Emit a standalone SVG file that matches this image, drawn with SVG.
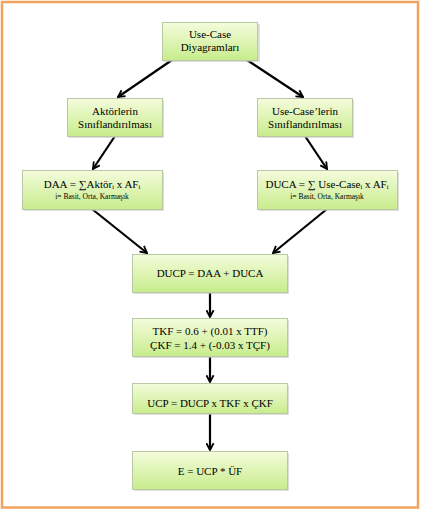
<svg xmlns="http://www.w3.org/2000/svg" width="421" height="511" viewBox="0 0 421 511">
<style>
.box{fill:url(#g);stroke:#b9c9a2;stroke-width:1}
.sh{fill:#c8c8c8;opacity:0.6}
.t{font-family:'Liberation Serif','DejaVu Serif',serif;font-size:11px;fill:#000;text-anchor:middle}
.s{font-family:'Liberation Serif','DejaVu Serif',serif;font-size:7.5px;fill:#000;text-anchor:middle}
.c{stroke:#000;stroke-width:2.2;fill:none;marker-end:url(#a)}
</style>
<defs>
<linearGradient id="g" x1="0" y1="0" x2="0" y2="1">
<stop offset="0" stop-color="#f4fcdc"/>
<stop offset="1" stop-color="#c8ec8c"/>
</linearGradient>
<marker id="a" viewBox="0 0 10 10" refX="9" refY="5" markerWidth="9" markerHeight="9" markerUnits="userSpaceOnUse" orient="auto">
<path d="M1.5,1 L9,5 L1.5,9" fill="none" stroke="#000" stroke-width="2"/>
</marker>
</defs>
<rect x="0" y="0" width="421" height="511" fill="#fff"/>
<rect x="2" y="2" width="416" height="505.5" fill="none" stroke="#f2a35e" stroke-width="2.5"/>
<g id="connectors">
<line class="c" x1="172" y1="60" x2="118" y2="97"/>
<line class="c" x1="247" y1="60" x2="303" y2="97"/>
<line class="c" x1="115" y1="136" x2="93" y2="169"/>
<line class="c" x1="305" y1="136" x2="327" y2="169"/>
<line class="c" x1="92" y1="209" x2="147" y2="253"/>
<line class="c" x1="327" y1="209" x2="273" y2="253"/>
<line class="c" x1="210" y1="293" x2="210" y2="317"/>
<line class="c" x1="210" y1="357" x2="210" y2="382"/>
<line class="c" x1="210" y1="413" x2="210" y2="450"/>
</g>
<g id="usecase">
<rect class="sh" x="164" y="24" width="96" height="38"/>
<rect class="box" x="162.5" y="22.5" width="95" height="38"/>
<text class="t" x="210" y="38">Use-Case</text>
<text class="t" x="210" y="51">Diyagramları</text>
</g>
<g id="aktorler">
<rect class="sh" x="69" y="100" width="95" height="38"/>
<rect class="box" x="67.5" y="98.5" width="95" height="38"/>
<text class="t" x="115" y="115">Aktörlerin</text>
<text class="t" x="115" y="128">Sınıflandırılması</text>
</g>
<g id="usecaseler">
<rect class="sh" x="259" y="100" width="95" height="38"/>
<rect class="box" x="257.5" y="98.5" width="95" height="38"/>
<text class="t" x="305" y="115">Use-Case’lerin</text>
<text class="t" x="305" y="128">Sınıflandırılması</text>
</g>
<g id="daa">
<rect class="sh" x="24" y="172" width="140" height="39"/>
<rect class="box" x="22.5" y="170.5" width="140" height="39"/>
<text class="t" x="92" y="187.5">DAA = ∑Aktör<tspan font-size="6.5" dy="1.5">i</tspan><tspan dy="-1.5"> x AF</tspan><tspan font-size="6.5" dy="1.5">i</tspan></text>
<text class="s" x="92" y="199">i= Basit, Orta, Karmaşık</text>
</g>
<g id="duca">
<rect class="sh" x="259" y="172" width="140" height="39"/>
<rect class="box" x="257.5" y="170.5" width="140" height="39"/>
<text class="t" x="327" y="187.5">DUCA = ∑ Use-Case<tspan font-size="6.5" dy="1.5">i</tspan><tspan dy="-1.5"> x AF</tspan><tspan font-size="6.5" dy="1.5">i</tspan></text>
<text class="s" x="327" y="199">i= Basit, Orta, Karmaşık</text>
</g>
<g id="ducp">
<rect class="sh" x="134" y="256" width="155" height="38"/>
<rect class="box" x="132.5" y="254.5" width="155" height="38"/>
<text class="t" x="210" y="277">DUCP = DAA + DUCA</text>
</g>
<g id="tkf">
<rect class="sh" x="134" y="320" width="155" height="38"/>
<rect class="box" x="132.5" y="318.5" width="155" height="38"/>
<text class="t" x="210" y="335">TKF = 0.6 + (0.01 x TTF)</text>
<text class="t" x="210" y="349">ÇKF = 1.4 + (-0.03 x TÇF)</text>
</g>
<g id="ucp">
<rect class="sh" x="134" y="385" width="155" height="30"/>
<rect class="box" x="132.5" y="383.5" width="155" height="30"/>
<text class="t" x="210" y="407">UCP = DUCP  x TKF x ÇKF</text>
</g>
<g id="e">
<rect class="sh" x="134" y="453" width="155" height="38"/>
<rect class="box" x="132.5" y="451.5" width="155" height="38"/>
<text class="t" x="210" y="475">E = UCP * ÜF</text>
</g>
</svg>
